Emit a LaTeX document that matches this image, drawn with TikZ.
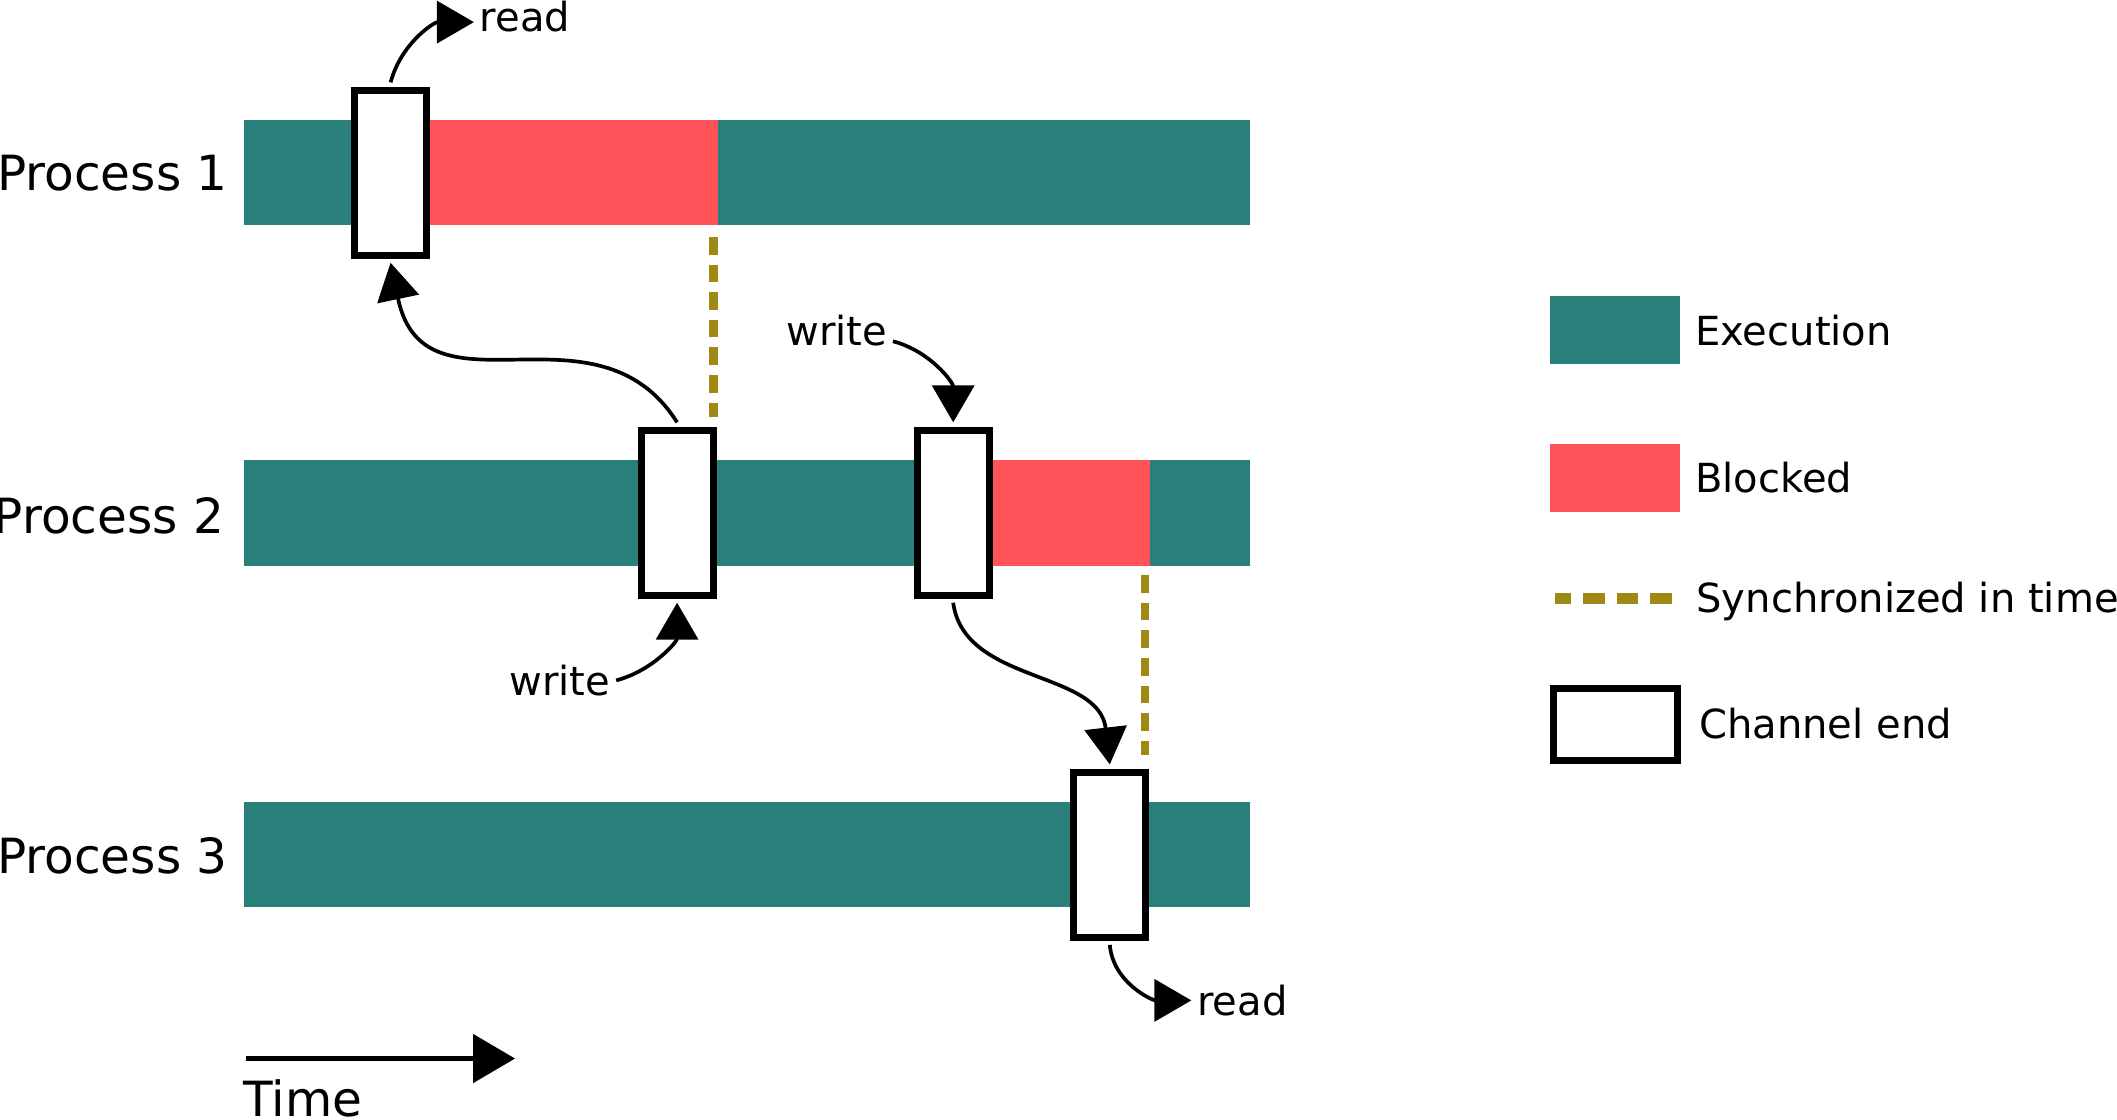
\documentclass[tikz,border=0pt]{standalone}
\usepackage{fontspec}
\setmainfont{DejaVu Sans}
\usetikzlibrary{arrows.meta}

\definecolor{runcol}{RGB}{42,128,122}
\definecolor{waitcol}{RGB}{255,83,89}
\definecolor{synccol}{RGB}{158,137,20}

\tikzset{
  run/.style={fill=runcol},
  wait/.style={fill=waitcol},
  chanend/.style={draw=black, line width=2pt, fill=white, inner sep=0pt, outer sep=2.2pt,
    minimum width=0.72cm, minimum height=1.65cm},
  msg/.style={line width=1.05pt, -{Triangle[length=0.37cm,width=0.42cm]}},
  sync/.style={draw=synccol, line width=2.5pt, dash pattern=on 5pt off 2.85pt},
  proc/.style={font=\fontsize{13.8}{16}\selectfont, inner sep=0pt, anchor=base west},
  op/.style={font=\fontsize{11.4}{14}\selectfont, inner sep=1.5pt},
  key/.style={font=\fontsize{11.4}{14}\selectfont, inner sep=0pt, anchor=base west},
}

\begin{document}
\begin{tikzpicture}[x=0.0135cm,y=0.0135cm]
\useasboundingbox (0,0) rectangle (1568,-829);

% process rows
\node[proc] (proc1) at (-2.5,-141) {Process 1};
\node[proc] (proc2) at (-5,-395) {Process 2};
\node[proc] (proc3) at (-2.5,-647) {Process 3};

\fill[run] (180.5,-89) rectangle (925.5,-167);
\fill[wait] (300,-89) rectangle (532,-167);
\fill[run] (180.5,-341) rectangle (925.5,-419);
\fill[wait] (720,-341) rectangle (851.6,-419);
\fill[run] (180.5,-594) rectangle (925.5,-672);

% synchronisation
\draw[sync] (528.4,-175.6) -- (528.4,-308.6);
\draw[sync] (848,-426) -- (848,-559);

% channel ends
\node[chanend] (p1r) at (289.3,-127.8) {};
\node[chanend] (p2w) at (501.5,-379.6) {};
\node[chanend] (p2b) at (706,-379.6) {};
\node[chanend] (p3r) at (822,-633) {};

\node[op, anchor=base west] (rd1) at (351,-23) {read};
\node[op, anchor=base east] (wr2) at (456.4,-515) {write};
\node[op, anchor=base east] (wr1) at (661.4,-256) {write};
\node[op, anchor=base west] (rd3) at (882.4,-752) {read};

\draw[msg] (p1r.north) to[out=75,in=180] ([yshift=-1.7pt]rd1.west);
\draw[msg] (p2w.north) .. controls +(-60,95) and +(25,-120) .. (p1r.south);
\draw[msg] (wr2.east) to[out=15,in=-90] (p2w.south);
\draw[msg] ([yshift=-3pt]wr1.east) to[out=-15,in=90] (p2b.north);
\draw[msg] (p2b.south) .. controls +(8,-60) and +(-8,70) .. (p3r.north);
\draw[msg] (p3r.south) to[out=-85,in=180] (rd3.west);

% time axis
\coordinate (t0) at (182,-784);
\coordinate (t1) at (381.5,-784);
\draw[line width=1.4pt, -{Triangle[length=0.42cm,width=0.48cm]}] (t0) -- (t1);
\node[proc] (time) at (180,-827) {Time};

% legend
\fill[run] (1148,-219) rectangle (1244.5,-269.6);
\node[key] (kexec) at (1255,-256) {Execution};
\fill[wait] (1148,-329) rectangle (1244.5,-379);
\node[key] (kwait) at (1255,-365) {Blocked};
\draw[synccol, line width=3.1pt, dash pattern=on 6.2pt off 3.4pt, dash phase=1.8pt] (1152,-443) -- (1241,-443);
\node[key] (ksync) at (1256,-454) {Synchronized in time};
\draw[line width=2pt] (1150.6,-509.6) rectangle (1242.4,-563.4);
\node[key] (kchan) at (1258,-547) {Channel end};
\end{tikzpicture}
\end{document}
